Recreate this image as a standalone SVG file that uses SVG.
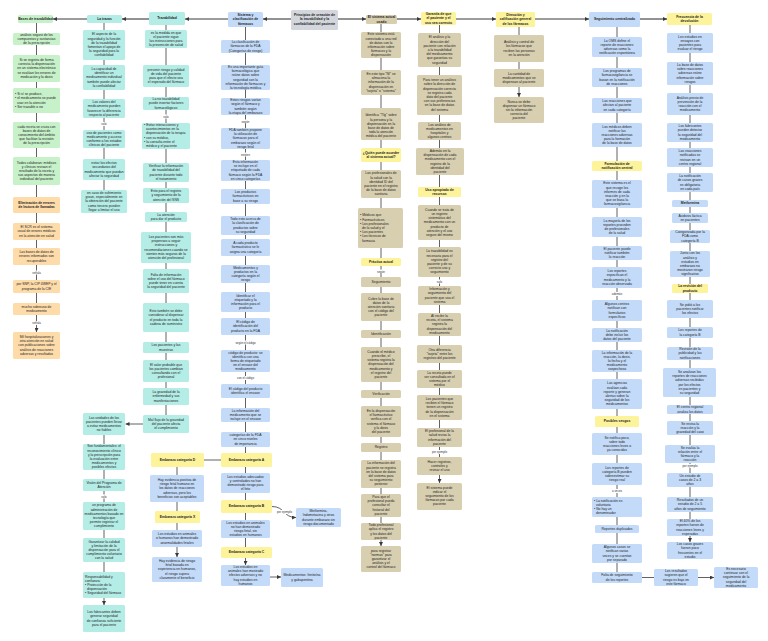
<svg xmlns="http://www.w3.org/2000/svg" width="768" height="641" viewBox="0 0 768 641">
<defs>
<marker id="ah" markerUnits="userSpaceOnUse" markerWidth="4" markerHeight="4" refX="4" refY="2" orient="auto"><path d="M0,0 L4,2 L0,4 z" fill="#3a3a3a"/></marker>
<style>
.g{fill:#c6f1c9}.o{fill:#fddcaa}.c{fill:#b4ece6}.b{fill:#c3dbf9}.t{fill:#d8cfb0}.y{fill:#fdf39b}.k{fill:#d3d6dc}
rect{rx:1.5}
text{font-family:"Liberation Sans",Arial,sans-serif;font-size:3.4px;fill:#222;text-anchor:middle}
text.l{text-anchor:start}
text.h{font-weight:bold}
.cn path{fill:none;stroke:#3a3a3a;stroke-width:0.8;marker-end:url(#ah)}
.cn path.m{stroke-width:1.1}
.lb rect{fill:#fff}
.lb text{font-size:2.9px;fill:#333}
</style>
</defs>
<rect width="768" height="641" fill="#fff"/>
<g id="connectors" class="cn">
<path class="m" d="M291,19 H263"/><path class="m" d="M338,19 H366"/><path class="m" d="M228,19 H185"/><path class="m" d="M149,19 H122"/><path class="m" d="M87,19 H53"/>
<path class="m" d="M397,19 H421"/><path class="m" d="M456,19 H496"/><path class="m" d="M535,19 H589"/><path class="m" d="M640,19 H667"/>
<path d="M36.5,23 V33 M36.5,45 V55 M36.5,82 V88 M36.5,113 V122 M36.5,148 V157 M36.5,185 V197 M36.5,213 V223 M36.5,240 V248 M36.5,265 V280 M36.5,293 V303 M36.5,315 V332"/>
<path d="M104,23 V30 M104,60 V65 M104,90 V99 M104,118 V130 M104,148 V159 M104,180 V190 M104,435 V444 M104,470 V479 M104,491 V502 M104,530 V538 M104,562 V572 M104,598 V605"/>
<path d="M166,25 V30 M166,48 V65 M166,87 V97 M166,110 V123 M166,149 V163 M166,182 V188 M166,203 V212 M166,222 V232 M166,263 V269 M166,293 V303 M166,332 V342 M166,353 V360 M166,382 V388 M166,405 V415 M143,424 H125.5"/>
<path d="M245.5,27 V40 M245.5,53 V65 M245.5,90 V98 M245.5,115 V128 M245.5,149 V160 M245.5,181 V189 M245.5,204 V216 M245.5,235 V239 M245.5,256 V265 M245.5,283 V292 M245.5,312 V318 M245.5,335 V350 M245.5,372 V384 M245.5,398 V408 M245.5,422 V432 M245.5,447 V453 M245.5,467 V473 M245.5,493 V500 M245.5,513 V520 M245.5,538 V547 M245.5,558 V565"/>
<path d="M221,460 H204 M177,467 V475 M177,502 V511 M177,523 V530 M177,547 V557"/>
<path d="M272,506.5 C285,506.5 283,517.5 296,517.5"/><path d="M270,577 H281"/>
<path d="M381,24 V32 M381,58 V70 M381,95 V108 M381,140 V148 M381,162 V170 M381,198 V208 M381,248 V258 M381,266 V277 M381,287 V293 M381,321 V330 M381,338 V347 M381,382 V390 M381,398 V406 M381,437 V443 M381,452 V460 M381,488 V494 M381,517 V523 M381,540 V546"/>
<path d="M439.5,25 V33 M439.5,67 V75 M439.5,115 V122 M439.5,140 V148 M439.5,175 V187 M439.5,197 V205 M439.5,240 V247 M439.5,277 V286 M439.5,305 V313 M439.5,336 V345 M439.5,363 V370 M439.5,388 V395 M439.5,420 V428 M439.5,447 V457 M439.5,475 V483"/>
<path d="M519,27 V35 M519,62 V69 M519,87 V97"/>
<path d="M617,27 V37 M617,57 V68 M617,87 V98 M617,113 V123 M617,147 V161 M617,171 V180 M617,208 V217 M617,237 V246 M617,260 V267 M617,288 V300 M617,321 V328 M617,342 V350 M617,372 V379 M617,409 V416 M617,427 V433 M617,455 V463 M617,485 V497 M617,517 V525 M617,533 V544 M617,563 V572 M642,577.5 H654 M698,577.5 H714"/>
<path d="M690,25 V33 M690,53 V62 M690,85 V93 M690,115 V123 M690,142 V148 M690,167 V173 M690,192 V200 M690,207 V213 M690,223 V230 M690,243 V251 M690,277 V284 M690,293 V300 M690,318 V327 M690,338 V347 M690,360 V368 M690,397 V405 M690,414 V421 M690,435 V445 M690,459 V473 M690,487 V497 M690,512 V519 M690,536 V542"/>
<g class="lb">
<rect x="29" y="270.5" width="15" height="4"/><text x="36.5" y="273.6">señala</text>
<rect x="29" y="321" width="15" height="4"/><text x="36.5" y="324.1">señala</text>
<rect x="98" y="122" width="12" height="4"/><text x="104" y="125.1">solo</text>
<rect x="98" y="494.5" width="12" height="4"/><text x="104" y="497.6">solo</text>
<rect x="160" y="114.5" width="12" height="4"/><text x="166" y="117.6">solo</text>
<rect x="239" y="119.5" width="13" height="4"/><text x="245.5" y="122.6">según</text>
<rect x="238" y="152.5" width="15" height="4"/><text x="245.5" y="155.6">existen</text>
<rect x="233" y="340.5" width="25" height="4"/><text x="245.5" y="343.6">según el código</text>
<rect x="235" y="376" width="21" height="4"/><text x="245.5" y="379.1">con el código</text>
<rect x="276" y="510" width="17" height="4"/><text x="284.5" y="513.1">por ejemplo</text>
<rect x="374.5" y="269.5" width="13" height="4"/><text x="381" y="272.6">según</text>
<rect x="433.5" y="279.5" width="12" height="4"/><text x="439.5" y="282.6">solo</text>
<rect x="431" y="450" width="17" height="4"/><text x="439.5" y="453.1">por ejemplo</text>
<rect x="609" y="292" width="16" height="4"/><text x="617" y="295.1">además</text>
<rect x="609" y="489" width="16" height="4"/><text x="617" y="492.1">a veces</text>
<rect x="681.5" y="464" width="17" height="4"/><text x="690" y="467.1">por ejemplo</text>
</g>
</g>

<g id="center"><rect class="k" x="291" y="10" width="47" height="20" rx="9"/><text class="h" x="314.5" y="16.2"><tspan x="314.5">Principios de creación de</tspan><tspan x="314.5" dy="4.2">la trazabilidad y la</tspan><tspan x="314.5" dy="4.2">confiabilidad del paciente</tspan></text></g>

<g id="c1h"><rect class="g" x="18" y="15" width="35" height="8"/><text class="h" x="35.5" y="20">Bases de trazabilidad</text></g>
<g id="c1n1"><rect class="g" x="13" y="33" width="47" height="12"/><text x="36.5" y="35.7"><tspan x="36.5">análisis seguro de los</tspan><tspan x="36.5" dy="4.2">compuestos y sustancias</tspan><tspan x="36.5" dy="4.2">de la prescripción</tspan></text></g>
<g id="c1n2"><rect class="g" x="13" y="55" width="47" height="27"/><text x="36.5" y="61"><tspan x="36.5">Si se registra de forma</tspan><tspan x="36.5" dy="4.2">correcta la dispensación</tspan><tspan x="36.5" dy="4.2">en un sistema electrónico</tspan><tspan x="36.5" dy="4.2">se evalúan los errores de</tspan><tspan x="36.5" dy="4.2">medicación y la dosis</tspan></text></g>
<g id="c1n3"><rect class="g" x="13" y="88" width="47" height="25"/><text class="l" x="15" y="95.1"><tspan x="15">• Si sí se produce,</tspan><tspan x="15" dy="4.2">• el medicamento se puede</tspan><tspan x="17" dy="4.2">usar en la atención</tspan><tspan x="15" dy="4.2">• Ser trazable o no</tspan></text></g>
<g id="c1n4"><rect class="g" x="13" y="122" width="47" height="26"/><text x="36.5" y="127.5"><tspan x="36.5">cada receta se cruza con</tspan><tspan x="36.5" dy="4.2">bases de datos de</tspan><tspan x="36.5" dy="4.2">conocimiento del ámbito</tspan><tspan x="36.5" dy="4.2">que facilitan la revisión</tspan><tspan x="36.5" dy="4.2">de la prescripción</tspan></text></g>
<g id="c1n5"><rect class="g" x="13" y="157" width="47" height="28"/><text x="36.5" y="163.5"><tspan x="36.5">Todos colaboran: médicos</tspan><tspan x="36.5" dy="4.2">y clínicos revisan el</tspan><tspan x="36.5" dy="4.2">resultado de la receta y</tspan><tspan x="36.5" dy="4.2">sus aspectos de manera</tspan><tspan x="36.5" dy="4.2">individual del paciente</tspan></text></g>
<g id="c1n6"><rect class="o" x="13" y="197" width="47" height="16"/><text class="h" x="36.5" y="203.8"><tspan x="36.5">Eliminación de errores</tspan><tspan x="36.5" dy="4.2">de lectura de llamadas</tspan></text></g>
<g id="c1n7"><rect class="o" x="13" y="223" width="47" height="17"/><text x="36.5" y="228.2"><tspan x="36.5">El SCR es el sistema</tspan><tspan x="36.5" dy="4.2">usual de errores médicos</tspan><tspan x="36.5" dy="4.2">en la atención en salud</tspan></text></g>
<g id="c1n8"><rect class="o" x="13" y="248" width="47" height="17"/><text x="36.5" y="253.2"><tspan x="36.5">Las bases de datos de</tspan><tspan x="36.5" dy="4.2">errores informados son</tspan><tspan x="36.5" dy="4.2">recuperables</tspan></text></g>
<g id="c1n9"><rect class="o" x="13" y="280" width="47" height="13"/><text x="36.5" y="285.3"><tspan x="36.5">por SNP, la CIP 4WEP y el</tspan><tspan x="36.5" dy="4.2">programa de la CIE</tspan></text></g>
<g id="c1n10"><rect class="o" x="13" y="303" width="47" height="12"/><text x="36.5" y="307.8"><tspan x="36.5">mucho sobreuso de</tspan><tspan x="36.5" dy="4.2">medicamento</tspan></text></g>
<g id="c1n11"><rect class="o" x="13" y="332" width="47" height="27"/><text x="36.5" y="338"><tspan x="36.5">Mil hospitalizaciones y</tspan><tspan x="36.5" dy="4.2">otra atención en salud</tspan><tspan x="36.5" dy="4.2">con publicaciones sobre</tspan><tspan x="36.5" dy="4.2">análisis de reacciones</tspan><tspan x="36.5" dy="4.2">adversas y resultados</tspan></text></g>

<g id="c2h"><rect class="c" x="87" y="15" width="35" height="8"/><text class="h" x="104.5" y="20">La trazas</text></g>
<g id="c2n1"><rect class="c" x="83" y="30" width="42" height="30"/><text x="104" y="35.4"><tspan x="104">El aspecto de la</tspan><tspan x="104" dy="4.2">seguridad y la función</tspan><tspan x="104" dy="4.2">de la trazabilidad</tspan><tspan x="104" dy="4.2">fomentan el apoyo de</tspan><tspan x="104" dy="4.2">la seguridad para la</tspan><tspan x="104" dy="4.2">confiabilidad</tspan></text></g>
<g id="c2n2"><rect class="c" x="83" y="65" width="42" height="25"/><text x="104" y="70"><tspan x="104">La capacidad de</tspan><tspan x="104" dy="4.2">identificar un</tspan><tspan x="104" dy="4.2">medicamento individual</tspan><tspan x="104" dy="4.2">también puede afectar</tspan><tspan x="104" dy="4.2">la confiabilidad</tspan></text></g>
<g id="c2n3"><rect class="c" x="83" y="99" width="42" height="19"/><text x="104" y="103.1"><tspan x="104">Los valores del</tspan><tspan x="104" dy="4.2">medicamento pueden</tspan><tspan x="104" dy="4.2">favorecer la diferencia</tspan><tspan x="104" dy="4.2">respecto al paciente</tspan></text></g>
<g id="c2n4"><rect class="c" x="83" y="130" width="42" height="18"/><text x="104" y="133.6"><tspan x="104">uso de pacientes como</tspan><tspan x="104" dy="4.2">medicamento y acceso</tspan><tspan x="104" dy="4.2">conforme a los estados</tspan><tspan x="104" dy="4.2">clínicos del paciente</tspan></text></g>
<g id="c2n5"><rect class="c" x="83" y="159" width="42" height="21"/><text x="104" y="164.1"><tspan x="104">evitar los efectos</tspan><tspan x="104" dy="4.2">secundarios del</tspan><tspan x="104" dy="4.2">medicamento que puedan</tspan><tspan x="104" dy="4.2">afectar la seguridad</tspan></text></g>
<g id="c2n6"><rect class="c" x="81" y="190" width="46" height="23"/><text x="104" y="194"><tspan x="104">en caso de sufrimiento</tspan><tspan x="104" dy="4.2">grave, especialmente en</tspan><tspan x="104" dy="4.2">la obtención del paciente</tspan><tspan x="104" dy="4.2">como tercero pueden</tspan><tspan x="104" dy="4.2">llegar a limitar el uso</tspan></text></g>
<g id="c2n7"><rect class="c" x="83" y="413" width="42" height="22"/><text x="104" y="418.6"><tspan x="104">Las unidades de los</tspan><tspan x="104" dy="4.2">pacientes pueden llevar</tspan><tspan x="104" dy="4.2">a evitar medicamentos</tspan><tspan x="104" dy="4.2">no fiables</tspan></text></g>
<g id="c2n8"><rect class="c" x="83" y="444" width="42" height="26"/><text x="104" y="447.4"><tspan x="104">Son fundamentales: el</tspan><tspan x="104" dy="4.2">reconocimiento clínico</tspan><tspan x="104" dy="4.2">y la prescripción para</tspan><tspan x="104" dy="4.2">la evaluación entre</tspan><tspan x="104" dy="4.2">medicamentos y</tspan><tspan x="104" dy="4.2">posibles efectos</tspan></text></g>
<g id="c2n9"><rect class="c" x="83" y="479" width="42" height="12"/><text x="104" y="483.8"><tspan x="104">Visión del Programa de</tspan><tspan x="104" dy="4.2">Atención</tspan></text></g>
<g id="c2n10"><rect class="c" x="83" y="502" width="42" height="28"/><text x="104" y="506.4"><tspan x="104">un programa de</tspan><tspan x="104" dy="4.2">administración de</tspan><tspan x="104" dy="4.2">medicamentos basado en</tspan><tspan x="104" dy="4.2">tecnología que</tspan><tspan x="104" dy="4.2">permite registrar el</tspan><tspan x="104" dy="4.2">cumplimiento</tspan></text></g>
<g id="c2n11"><rect class="c" x="83" y="538" width="42" height="24"/><text x="104" y="542.5"><tspan x="104">Garantizar la calidad</tspan><tspan x="104" dy="4.2">y limitación de la</tspan><tspan x="104" dy="4.2">dispensación para el</tspan><tspan x="104" dy="4.2">cumplimiento voluntario</tspan><tspan x="104" dy="4.2">con la salud</tspan></text></g>
<g id="c2n12"><rect class="c" x="83" y="572" width="42" height="26"/><text class="l" x="85" y="577.5"><tspan x="85">Responsabilidad y</tspan><tspan x="85" dy="4.2">confianza:</tspan><tspan x="85" dy="4.2">• Protección de la</tspan><tspan x="87" dy="4.2">dispensación</tspan><tspan x="85" dy="4.2">• Seguridad del fármaco</tspan></text></g>
<g id="c2n13"><rect class="c" x="83" y="605" width="42" height="27"/><text x="104" y="613.1"><tspan x="104">Los fabricantes deben</tspan><tspan x="104" dy="4.2">generar seguridad</tspan><tspan x="104" dy="4.2">de confianza suficiente</tspan><tspan x="104" dy="4.2">para el paciente</tspan></text></g>

<g id="c3h"><rect class="c" x="149" y="12" width="36" height="13"/><text class="h" x="167" y="19.4">Trazabilidad</text></g>
<g id="c3n1"><rect class="c" x="145" y="30" width="42" height="18"/><text x="166" y="33.6"><tspan x="166">es la medida en que</tspan><tspan x="166" dy="4.2">el paciente sigue</tspan><tspan x="166" dy="4.2">las instrucciones para</tspan><tspan x="166" dy="4.2">la prevención de salud</tspan></text></g>
<g id="c3n2"><rect class="c" x="143" y="65" width="46" height="22"/><text x="166" y="70.6"><tspan x="166">prevenir riesgo y calidad</tspan><tspan x="166" dy="4.2">de vida del paciente</tspan><tspan x="166" dy="4.2">para que el efecto sea</tspan><tspan x="166" dy="4.2">el esperado del fármaco</tspan></text></g>
<g id="c3n3"><rect class="c" x="143" y="97" width="46" height="13"/><text x="166" y="100.2"><tspan x="166">La no trazabilidad</tspan><tspan x="166" dy="4.2">puede insertar factores</tspan><tspan x="166" dy="4.2">farmacológicos</tspan></text></g>
<g id="c3n4"><rect class="c" x="142" y="123" width="48" height="26"/><text class="l" x="144" y="126"><tspan x="144">• Evitar interacciones y</tspan><tspan x="146" dy="4.2">acontecimientos en la</tspan><tspan x="146" dy="4.2">dispensación de la terapia</tspan><tspan x="144" dy="4.2">• con su médico,</tspan><tspan x="144" dy="4.2">• la consulta entre el</tspan><tspan x="146" dy="4.2">médico y el paciente</tspan></text></g>
<g id="c3n5"><rect class="c" x="143" y="163" width="46" height="19"/><text x="166" y="167.1"><tspan x="166">Verificar la información</tspan><tspan x="166" dy="4.2">de trazabilidad del</tspan><tspan x="166" dy="4.2">paciente durante todo</tspan><tspan x="166" dy="4.2">el tratamiento</tspan></text></g>
<g id="c3n6"><rect class="c" x="143" y="188" width="46" height="15"/><text x="166" y="192.2"><tspan x="166">Esto para el registro</tspan><tspan x="166" dy="4.2">y seguimiento de la</tspan><tspan x="166" dy="4.2">atención del SNS</tspan></text></g>
<g id="c3n7"><rect class="c" x="145" y="212" width="42" height="10"/><text x="166" y="215.8"><tspan x="166">La atención</tspan><tspan x="166" dy="4.2">para dar el producto</tspan></text></g>
<g id="c3n8"><rect class="c" x="141" y="232" width="50" height="31"/><text x="166" y="237.9"><tspan x="166">Los pacientes son más</tspan><tspan x="166" dy="4.2">propensos a seguir</tspan><tspan x="166" dy="4.2">instrucciones y</tspan><tspan x="166" dy="4.2">recomendaciones cuando se</tspan><tspan x="166" dy="4.2">sienten más seguros de la</tspan><tspan x="166" dy="4.2">atención del profesional</tspan></text></g>
<g id="c3n9"><rect class="c" x="143" y="269" width="46" height="24"/><text x="166" y="275.6"><tspan x="166">Falta de información</tspan><tspan x="166" dy="4.2">sobre el uso del fármaco</tspan><tspan x="166" dy="4.2">puede tener en cuenta</tspan><tspan x="166" dy="4.2">la seguridad del paciente</tspan></text></g>
<g id="c3n10"><rect class="c" x="143" y="303" width="46" height="29"/><text x="166" y="312.1"><tspan x="166">Esto también se debe</tspan><tspan x="166" dy="4.2">considerar al dispensar</tspan><tspan x="166" dy="4.2">el producto en toda la</tspan><tspan x="166" dy="4.2">cadena de suministro</tspan></text></g>
<g id="c3n11"><rect class="c" x="143" y="342" width="46" height="11"/><text x="166" y="346.3"><tspan x="166">Los pacientes y las</tspan><tspan x="166" dy="4.2">muestras</tspan></text></g>
<g id="c3n12"><rect class="c" x="143" y="360" width="46" height="22"/><text x="166" y="365.6"><tspan x="166">El valor probable que</tspan><tspan x="166" dy="4.2">los pacientes cambian</tspan><tspan x="166" dy="4.2">consultando con el</tspan><tspan x="166" dy="4.2">profesional</tspan></text></g>
<g id="c3n13"><rect class="c" x="143" y="388" width="46" height="17"/><text x="166" y="393.2"><tspan x="166">La gravedad de la</tspan><tspan x="166" dy="4.2">enfermedad y sus</tspan><tspan x="166" dy="4.2">manifestaciones</tspan></text></g>
<g id="c3n14"><rect class="c" x="143" y="415" width="46" height="18"/><text x="166" y="420.7"><tspan x="166">Mal flujo de la gravedad</tspan><tspan x="166" dy="4.2">del paciente afecta</tspan><tspan x="166" dy="4.2">el cumplimiento</tspan></text></g>

<g id="c4h"><rect class="b" x="228" y="12" width="35" height="15"/><text class="h" x="245.5" y="16.2"><tspan x="245.5">Sistema y</tspan><tspan x="245.5" dy="4.2">clasificación de</tspan><tspan x="245.5" dy="4.2">fármacos</tspan></text></g>
<g id="c4n1"><rect class="b" x="221" y="40" width="49" height="13"/><text x="245.5" y="43.2"><tspan x="245.5">La clasificación de</tspan><tspan x="245.5" dy="4.2">fármacos de la FDA</tspan><tspan x="245.5" dy="4.2">(Categorías de riesgo)</tspan></text></g>
<g id="c4n2"><rect class="b" x="221" y="65" width="49" height="25"/><text x="245.5" y="67.9"><tspan x="245.5">Es una importante guía</tspan><tspan x="245.5" dy="4.2">farmacológica que</tspan><tspan x="245.5" dy="4.2">reúne datos sobre</tspan><tspan x="245.5" dy="4.2">seguridad con la</tspan><tspan x="245.5" dy="4.2">información de fármacos y</tspan><tspan x="245.5" dy="4.2">la tecnología médica</tspan></text></g>
<g id="c4n3"><rect class="b" x="221" y="98" width="49" height="17"/><text x="245.5" y="101.1"><tspan x="245.5">Estos riesgos varían</tspan><tspan x="245.5" dy="4.2">según el fármaco y</tspan><tspan x="245.5" dy="4.2">también según</tspan><tspan x="245.5" dy="4.2">la etapa del embarazo</tspan></text></g>
<g id="c4n4"><rect class="b" x="221" y="128" width="49" height="21"/><text x="245.5" y="131"><tspan x="245.5">FDA también propone</tspan><tspan x="245.5" dy="4.2">la utilización de</tspan><tspan x="245.5" dy="4.2">fármacos para el</tspan><tspan x="245.5" dy="4.2">embarazo según el</tspan><tspan x="245.5" dy="4.2">riesgo fetal</tspan></text></g>
<g id="c4n5"><rect class="b" x="221" y="160" width="49" height="21"/><text x="245.5" y="163"><tspan x="245.5">Esta información</tspan><tspan x="245.5" dy="4.2">se incluye en el</tspan><tspan x="245.5" dy="4.2">etiquetado de cada</tspan><tspan x="245.5" dy="4.2">fármaco según la FDA</tspan><tspan x="245.5" dy="4.2">en cinco categorías</tspan></text></g>
<g id="c4n6"><rect class="b" x="221" y="189" width="49" height="15"/><text x="245.5" y="193.2"><tspan x="245.5">Los productos</tspan><tspan x="245.5" dy="4.2">farmacéuticos en</tspan><tspan x="245.5" dy="4.2">base a su riesgo</tspan></text></g>
<g id="c4n7"><rect class="b" x="221" y="216" width="49" height="19"/><text x="245.5" y="220.1"><tspan x="245.5">Todo esto acerca de</tspan><tspan x="245.5" dy="4.2">la clasificación de</tspan><tspan x="245.5" dy="4.2">productos sobre</tspan><tspan x="245.5" dy="4.2">su seguridad</tspan></text></g>
<g id="c4n8"><rect class="b" x="221" y="239" width="49" height="17"/><text x="245.5" y="244.2"><tspan x="245.5">A cada producto</tspan><tspan x="245.5" dy="4.2">farmacéutico se le</tspan><tspan x="245.5" dy="4.2">asigna una categoría</tspan></text></g>
<g id="c4n9"><rect class="b" x="221" y="265" width="49" height="18"/><text x="245.5" y="268.6"><tspan x="245.5">Medicamentos y</tspan><tspan x="245.5" dy="4.2">productos en la</tspan><tspan x="245.5" dy="4.2">categoría según el</tspan><tspan x="245.5" dy="4.2">riesgo</tspan></text></g>
<g id="c4n10"><rect class="b" x="221" y="292" width="49" height="20"/><text x="245.5" y="296.6"><tspan x="245.5">Identificar el</tspan><tspan x="245.5" dy="4.2">etiquetado y la</tspan><tspan x="245.5" dy="4.2">información para el</tspan><tspan x="245.5" dy="4.2">producto</tspan></text></g>
<g id="c4n11"><rect class="b" x="221" y="318" width="49" height="17"/><text x="245.5" y="323.2"><tspan x="245.5">El código de</tspan><tspan x="245.5" dy="4.2">identificación del</tspan><tspan x="245.5" dy="4.2">producto en la FDA</tspan></text></g>
<g id="c4n12"><rect class="b" x="221" y="350" width="49" height="22"/><text x="245.5" y="353.5"><tspan x="245.5">código de producto: se</tspan><tspan x="245.5" dy="4.2">identifica con una</tspan><tspan x="245.5" dy="4.2">forma de etiquetado</tspan><tspan x="245.5" dy="4.2">en el envase del</tspan><tspan x="245.5" dy="4.2">medicamento</tspan></text></g>
<g id="c4n13"><rect class="b" x="221" y="384" width="49" height="14"/><text x="245.5" y="389.8"><tspan x="245.5">El código del producto</tspan><tspan x="245.5" dy="4.2">identifica el envase</tspan></text></g>
<g id="c4n14"><rect class="b" x="221" y="408" width="49" height="14"/><text x="245.5" y="411.7"><tspan x="245.5">La información del</tspan><tspan x="245.5" dy="4.2">medicamento que se</tspan><tspan x="245.5" dy="4.2">incluye en el envase</tspan></text></g>
<g id="c4n15"><rect class="b" x="221" y="432" width="49" height="15"/><text x="245.5" y="436.2"><tspan x="245.5">categorías de la FDA</tspan><tspan x="245.5" dy="4.2">en cinco niveles</tspan><tspan x="245.5" dy="4.2">de importancia</tspan></text></g>
<g id="c4n16"><rect class="y" x="221" y="453" width="51" height="14"/><text class="h" x="246.5" y="460.9">Embarazo categoría A</text></g>
<g id="c4n17"><rect class="b" x="221" y="473" width="49" height="20"/><text x="245.5" y="477.6"><tspan x="245.5">Los estudios adecuados</tspan><tspan x="245.5" dy="4.2">y controlados no han</tspan><tspan x="245.5" dy="4.2">demostrado riesgo para</tspan><tspan x="245.5" dy="4.2">el feto</tspan></text></g>
<g id="c4n18"><rect class="y" x="221" y="500" width="51" height="13"/><text class="h" x="246.5" y="507.4">Embarazo categoría B</text></g>
<g id="c4n19"><rect class="b" x="221" y="520" width="49" height="18"/><text x="245.5" y="523.6"><tspan x="245.5">Los estudios en animales</tspan><tspan x="245.5" dy="4.2">no han demostrado</tspan><tspan x="245.5" dy="4.2">riesgo fetal, sin</tspan><tspan x="245.5" dy="4.2">estudios en humanos</tspan></text></g>
<g id="c4n20"><rect class="y" x="221" y="547" width="51" height="11"/><text class="h" x="246.5" y="553.4">Embarazo categoría C</text></g>
<g id="c4n21"><rect class="b" x="221" y="565" width="49" height="21"/><text x="245.5" y="568"><tspan x="245.5">Los estudios en</tspan><tspan x="245.5" dy="4.2">animales han mostrado</tspan><tspan x="245.5" dy="4.2">efectos adversos y no</tspan><tspan x="245.5" dy="4.2">hay estudios en</tspan><tspan x="245.5" dy="4.2">humanos</tspan></text></g>
<g id="cdY"><rect class="y" x="151" y="453" width="53" height="14"/><text class="h" x="177.5" y="460.9">Embarazo categoría D</text></g>
<g id="cdN1"><rect class="b" x="150" y="475" width="54" height="27"/><text x="177" y="481"><tspan x="177">Hay evidencia positiva de</tspan><tspan x="177" dy="4.2">riesgo fetal humano en</tspan><tspan x="177" dy="4.2">los datos de reacciones</tspan><tspan x="177" dy="4.2">adversas, pero los</tspan><tspan x="177" dy="4.2">beneficios son aceptables</tspan></text></g>
<g id="cxY"><rect class="y" x="155" y="511" width="45" height="12"/><text class="h" x="177.5" y="517.9">Embarazo categoría X</text></g>
<g id="cxN1"><rect class="b" x="152" y="530" width="50" height="17"/><text x="177" y="535.2"><tspan x="177">Los estudios en animales</tspan><tspan x="177" dy="4.2">o humanos han demostrado</tspan><tspan x="177" dy="4.2">anormalidades fetales</tspan></text></g>
<g id="cxN2"><rect class="b" x="152" y="557" width="50" height="25"/><text x="177" y="562"><tspan x="177">Hay evidencia de riesgo</tspan><tspan x="177" dy="4.2">fetal basada en</tspan><tspan x="177" dy="4.2">experiencia en humanos,</tspan><tspan x="177" dy="4.2">el riesgo supera</tspan><tspan x="177" dy="4.2">claramente el beneficio</tspan></text></g>
<g id="cbR1"><rect class="b" x="296" y="508" width="45" height="19"/><text x="318.5" y="512.1"><tspan x="318.5">Metformina,</tspan><tspan x="318.5" dy="4.2">Indometacina y otros</tspan><tspan x="318.5" dy="4.2">durante embarazo sin</tspan><tspan x="318.5" dy="4.2">riesgo documentado</tspan></text></g>
<g id="ccR1"><rect class="b" x="281" y="568" width="42" height="19"/><text x="302" y="576.3"><tspan x="302">Medicamentos: fenitoína</tspan><tspan x="302" dy="4.2">y gabapentina</tspan></text></g>

<g id="c5h"><rect class="t" x="366" y="15" width="31" height="9"/><text class="h" x="381.5" y="18.3"><tspan x="381.5">El sistema actual</tspan><tspan x="381.5" dy="4.2">usado</tspan></text></g>
<g id="c5n1"><rect class="t" x="361" y="32" width="40" height="26"/><text x="381" y="35.4"><tspan x="381">Este sistema está</tspan><tspan x="381" dy="4.2">conectado a una red</tspan><tspan x="381" dy="4.2">de datos con la</tspan><tspan x="381" dy="4.2">información sobre</tspan><tspan x="381" dy="4.2">fármacos y la</tspan><tspan x="381" dy="4.2">dispensación</tspan></text></g>
<g id="c5n2"><rect class="t" x="361" y="70" width="40" height="25"/><text x="381" y="75"><tspan x="381">En este tipo "NI" se</tspan><tspan x="381" dy="4.2">almacena la</tspan><tspan x="381" dy="4.2">información de la</tspan><tspan x="381" dy="4.2">dispensación en</tspan><tspan x="381" dy="4.2">"tarjeta" o "sistema"</tspan></text></g>
<g id="c5n3"><rect class="t" x="361" y="108" width="40" height="32"/><text x="381" y="116.4"><tspan x="381">Identifica "TIg" sobre</tspan><tspan x="381" dy="4.2">la persona y la</tspan><tspan x="381" dy="4.2">dispensación en la</tspan><tspan x="381" dy="4.2">base de datos de</tspan><tspan x="381" dy="4.2">toda la atención</tspan><tspan x="381" dy="4.2">médica del paciente</tspan></text></g>
<g id="c5n4"><rect class="y" x="361" y="148" width="40" height="14"/><text class="h" x="381" y="153.8"><tspan x="381">¿Quién puede acceder</tspan><tspan x="381" dy="4.2">al sistema actual?</tspan></text></g>
<g id="c5n5"><rect class="t" x="361" y="170" width="40" height="28"/><text x="381" y="174.4"><tspan x="381">Los profesionales de</tspan><tspan x="381" dy="4.2">la salud con la</tspan><tspan x="381" dy="4.2">identidad ID del</tspan><tspan x="381" dy="4.2">paciente en el registro</tspan><tspan x="381" dy="4.2">de la base de datos</tspan><tspan x="381" dy="4.2">sanitaria</tspan></text></g>
<g id="c5n6"><rect class="t" x="358" y="208" width="45" height="40"/><text class="l" x="360" y="216.3"><tspan x="360">• Médicos que</tspan><tspan x="360" dy="4.2">• Farmacéuticos</tspan><tspan x="360" dy="4.2">• Los profesionales</tspan><tspan x="362" dy="4.2">de la salud y el</tspan><tspan x="360" dy="4.2">• Los pacientes</tspan><tspan x="360" dy="4.2">• Los técnicos de</tspan><tspan x="362" dy="4.2">farmacia</tspan></text></g>
<g id="c5n7"><rect class="y" x="361" y="258" width="40" height="8"/><text class="h" x="381" y="262.9">Práctica actual</text></g>
<g id="c5n8"><rect class="t" x="361" y="277" width="40" height="10"/><text x="381" y="282.9">Seguimiento</text></g>
<g id="c5n9"><rect class="t" x="361" y="293" width="40" height="28"/><text x="381" y="299.5"><tspan x="381">Cubre la base de</tspan><tspan x="381" dy="4.2">datos de la</tspan><tspan x="381" dy="4.2">atención sanitaria</tspan><tspan x="381" dy="4.2">con el código del</tspan><tspan x="381" dy="4.2">paciente</tspan></text></g>
<g id="c5n10"><rect class="t" x="361" y="330" width="40" height="8"/><text x="381" y="334.9">Identificación</text></g>
<g id="c5n11"><rect class="t" x="361" y="347" width="40" height="35"/><text x="381" y="352.8"><tspan x="381">Cuando el médico</tspan><tspan x="381" dy="4.2">prescribe, el</tspan><tspan x="381" dy="4.2">sistema registra la</tspan><tspan x="381" dy="4.2">dispensación del</tspan><tspan x="381" dy="4.2">medicamento y</tspan><tspan x="381" dy="4.2">el registro del</tspan><tspan x="381" dy="4.2">paciente</tspan></text></g>
<g id="c5n12"><rect class="t" x="361" y="390" width="40" height="8"/><text x="381" y="394.9">Verificación</text></g>
<g id="c5n13"><rect class="t" x="361" y="406" width="40" height="31"/><text x="381" y="411.9"><tspan x="381">En la dispensación</tspan><tspan x="381" dy="4.2">el farmacéutico</tspan><tspan x="381" dy="4.2">verifica con el</tspan><tspan x="381" dy="4.2">sistema el fármaco</tspan><tspan x="381" dy="4.2">y la dosis</tspan><tspan x="381" dy="4.2">del paciente</tspan></text></g>
<g id="c5n14"><rect class="t" x="361" y="443" width="40" height="9"/><text x="381" y="448.4">Registro</text></g>
<g id="c5n15"><rect class="t" x="361" y="460" width="40" height="28"/><text x="381" y="464.4"><tspan x="381">La información del</tspan><tspan x="381" dy="4.2">paciente se registra</tspan><tspan x="381" dy="4.2">en la base de datos</tspan><tspan x="381" dy="4.2">del sistema para</tspan><tspan x="381" dy="4.2">su seguimiento</tspan><tspan x="381" dy="4.2">posterior</tspan></text></g>
<g id="c5n16"><rect class="t" x="361" y="494" width="40" height="23"/><text x="381" y="498"><tspan x="381">Para que el</tspan><tspan x="381" dy="4.2">profesional pueda</tspan><tspan x="381" dy="4.2">consultar el</tspan><tspan x="381" dy="4.2">historial del</tspan><tspan x="381" dy="4.2">paciente</tspan></text></g>
<g id="c5n17"><rect class="t" x="361" y="523" width="40" height="17"/><text x="381" y="526.1"><tspan x="381">Todo profesional</tspan><tspan x="381" dy="4.2">aplica el registro</tspan><tspan x="381" dy="4.2">y los datos del</tspan><tspan x="381" dy="4.2">paciente</tspan></text></g>
<g id="c5n18"><rect class="t" x="361" y="546" width="40" height="26"/><text x="381" y="551.5"><tspan x="381">para registrar</tspan><tspan x="381" dy="4.2">"normas" para</tspan><tspan x="381" dy="4.2">garantizar el</tspan><tspan x="381" dy="4.2">análisis y el</tspan><tspan x="381" dy="4.2">control del fármaco</tspan></text></g>

<g id="c6h"><rect class="y" x="421" y="12" width="35" height="13"/><text class="h" x="438.5" y="15.2"><tspan x="438.5">Garantía de que</tspan><tspan x="438.5" dy="4.2">el paciente y el</tspan><tspan x="438.5" dy="4.2">uso sea correcto</tspan></text></g>
<g id="c6n1"><rect class="t" x="418" y="33" width="43" height="34"/><text x="439.5" y="38.3"><tspan x="439.5">El análisis y la</tspan><tspan x="439.5" dy="4.2">dirección del</tspan><tspan x="439.5" dy="4.2">paciente con relación</tspan><tspan x="439.5" dy="4.2">a la trazabilidad</tspan><tspan x="439.5" dy="4.2">del medicamento</tspan><tspan x="439.5" dy="4.2">que garantiza su</tspan><tspan x="439.5" dy="4.2">seguridad</tspan></text></g>
<g id="c6n2"><rect class="t" x="417" y="75" width="45" height="40"/><text x="439.5" y="81.2"><tspan x="439.5">Para tener un análisis</tspan><tspan x="439.5" dy="4.2">sobre la dirección de</tspan><tspan x="439.5" dy="4.2">dispensación correcta</tspan><tspan x="439.5" dy="4.2">se registra cada</tspan><tspan x="439.5" dy="4.2">dato del paciente</tspan><tspan x="439.5" dy="4.2">con sus preferencias</tspan><tspan x="439.5" dy="4.2">en la base de datos</tspan><tspan x="439.5" dy="4.2">del sistema</tspan></text></g>
<g id="c6n3"><rect class="t" x="418" y="122" width="43" height="18"/><text x="439.5" y="125.6"><tspan x="439.5">Los análisis de</tspan><tspan x="439.5" dy="4.2">medicamentos en</tspan><tspan x="439.5" dy="4.2">hospitales y</tspan><tspan x="439.5" dy="4.2">algunos centros</tspan></text></g>
<g id="c6n4"><rect class="t" x="416" y="148" width="48" height="27"/><text x="440" y="151.9"><tspan x="440">Además en la</tspan><tspan x="440" dy="4.2">dispensación de cada</tspan><tspan x="440" dy="4.2">medicamento con el</tspan><tspan x="440" dy="4.2">registro de la</tspan><tspan x="440" dy="4.2">identidad del</tspan><tspan x="440" dy="4.2">paciente</tspan></text></g>
<g id="c6n5"><rect class="y" x="418" y="187" width="43" height="10"/><text class="h" x="439.5" y="190.8"><tspan x="439.5">Uso apropiado de</tspan><tspan x="439.5" dy="4.2">recursos</tspan></text></g>
<g id="c6n6"><rect class="t" x="418" y="205" width="43" height="35"/><text x="439.5" y="210.8"><tspan x="439.5">Cuando se trata de</tspan><tspan x="439.5" dy="4.2">un registro</tspan><tspan x="439.5" dy="4.2">sistemático del</tspan><tspan x="439.5" dy="4.2">medicamento con un</tspan><tspan x="439.5" dy="4.2">producto de</tspan><tspan x="439.5" dy="4.2">atención y el uso</tspan><tspan x="439.5" dy="4.2">seguro del mismo</tspan></text></g>
<g id="c6n7"><rect class="t" x="418" y="247" width="43" height="30"/><text x="439.5" y="252.4"><tspan x="439.5">La trazabilidad es</tspan><tspan x="439.5" dy="4.2">necesaria para el</tspan><tspan x="439.5" dy="4.2">registro del</tspan><tspan x="439.5" dy="4.2">paciente y de su</tspan><tspan x="439.5" dy="4.2">correcto uso y</tspan><tspan x="439.5" dy="4.2">seguimiento</tspan></text></g>
<g id="c6n8"><rect class="t" x="418" y="286" width="43" height="19"/><text x="439.5" y="290.1"><tspan x="439.5">Información y</tspan><tspan x="439.5" dy="4.2">seguimiento del</tspan><tspan x="439.5" dy="4.2">paciente que usa el</tspan><tspan x="439.5" dy="4.2">sistema</tspan></text></g>
<g id="c6n9"><rect class="t" x="418" y="313" width="43" height="23"/><text x="439.5" y="317"><tspan x="439.5">Al recibir la</tspan><tspan x="439.5" dy="4.2">receta, el sistema</tspan><tspan x="439.5" dy="4.2">registra la</tspan><tspan x="439.5" dy="4.2">dispensación del</tspan><tspan x="439.5" dy="4.2">medicamento</tspan></text></g>
<g id="c6n10"><rect class="t" x="417" y="345" width="45" height="18"/><text x="439.5" y="350.7"><tspan x="439.5">Otra diferencia</tspan><tspan x="439.5" dy="4.2">"tarjeta" entre los</tspan><tspan x="439.5" dy="4.2">registros del paciente</tspan></text></g>
<g id="c6n11"><rect class="t" x="417" y="370" width="45" height="18"/><text x="439.5" y="373.6"><tspan x="439.5">La receta puede</tspan><tspan x="439.5" dy="4.2">ser consultada en el</tspan><tspan x="439.5" dy="4.2">sistema por el</tspan><tspan x="439.5" dy="4.2">médico</tspan></text></g>
<g id="c6n12"><rect class="t" x="417" y="395" width="45" height="25"/><text x="439.5" y="400"><tspan x="439.5">Los pacientes que</tspan><tspan x="439.5" dy="4.2">reciben el fármaco</tspan><tspan x="439.5" dy="4.2">tienen un registro</tspan><tspan x="439.5" dy="4.2">de la dispensación</tspan><tspan x="439.5" dy="4.2">en el sistema</tspan></text></g>
<g id="c6n13"><rect class="t" x="417" y="428" width="45" height="19"/><text x="439.5" y="432.1"><tspan x="439.5">El profesional de la</tspan><tspan x="439.5" dy="4.2">salud revisa la</tspan><tspan x="439.5" dy="4.2">información del</tspan><tspan x="439.5" dy="4.2">paciente</tspan></text></g>
<g id="c6n14"><rect class="t" x="417" y="457" width="45" height="18"/><text x="439.5" y="462.7"><tspan x="439.5">Hacer registros,</tspan><tspan x="439.5" dy="4.2">controles y</tspan><tspan x="439.5" dy="4.2">revisar el uso</tspan></text></g>
<g id="c6n15"><rect class="t" x="417" y="483" width="45" height="27"/><text x="439.5" y="488.5"><tspan x="439.5">El sistema puede</tspan><tspan x="439.5" dy="4.2">indicar el</tspan><tspan x="439.5" dy="4.2">seguimiento de los</tspan><tspan x="439.5" dy="4.2">fármacos por cada</tspan><tspan x="439.5" dy="4.2">paciente</tspan></text></g>

<g id="c7h"><rect class="y" x="496" y="12" width="39" height="15"/><text class="h" x="515.5" y="16.2"><tspan x="515.5">Dirección y</tspan><tspan x="515.5" dy="4.2">calificación general</tspan><tspan x="515.5" dy="4.2">de los fármacos</tspan></text></g>
<g id="c7n1"><rect class="t" x="494" y="35" width="50" height="27"/><text x="519" y="43.1"><tspan x="519">Análisis y control de</tspan><tspan x="519" dy="4.2">los fármacos que</tspan><tspan x="519" dy="4.2">reciben las personas</tspan><tspan x="519" dy="4.2">en la atención</tspan></text></g>
<g id="c7n2"><rect class="t" x="494" y="69" width="50" height="18"/><text x="519" y="74.7"><tspan x="519">La cantidad de</tspan><tspan x="519" dy="4.2">medicamentos que se</tspan><tspan x="519" dy="4.2">dispensan al paciente</tspan></text></g>
<g id="c7n3"><rect class="t" x="494" y="97" width="50" height="26"/><text x="519" y="102.5"><tspan x="519">Nunca se debe</tspan><tspan x="519" dy="4.2">dispensar un fármaco</tspan><tspan x="519" dy="4.2">sin la información</tspan><tspan x="519" dy="4.2">correcta del</tspan><tspan x="519" dy="4.2">paciente</tspan></text></g>

<g id="c8h"><rect class="b" x="589" y="12" width="51" height="15"/><text class="h" x="614.5" y="20.4">Seguimiento centralizado</text></g>
<g id="c8n1"><rect class="b" x="592" y="37" width="50" height="20"/><text x="617" y="41.6"><tspan x="617">La OMS define el</tspan><tspan x="617" dy="4.2">reporte de reacciones</tspan><tspan x="617" dy="4.2">adversas como la</tspan><tspan x="617" dy="4.2">notificación espontánea</tspan></text></g>
<g id="c8n2"><rect class="b" x="592" y="68" width="50" height="19"/><text x="617" y="72.1"><tspan x="617">Los programas de</tspan><tspan x="617" dy="4.2">farmacovigilancia se</tspan><tspan x="617" dy="4.2">basan en la notificación</tspan><tspan x="617" dy="4.2">de reacciones</tspan></text></g>
<g id="c8n3"><rect class="b" x="592" y="98" width="50" height="15"/><text x="617" y="102.2"><tspan x="617">Las reacciones que</tspan><tspan x="617" dy="4.2">afectan al paciente</tspan><tspan x="617" dy="4.2">en cada categoría</tspan></text></g>
<g id="c8n4"><rect class="b" x="592" y="123" width="50" height="24"/><text x="617" y="127.5"><tspan x="617">Los médicos deben</tspan><tspan x="617" dy="4.2">notificar las</tspan><tspan x="617" dy="4.2">reacciones adversas</tspan><tspan x="617" dy="4.2">para la formación</tspan><tspan x="617" dy="4.2">de la base de datos</tspan></text></g>
<g id="c8n5"><rect class="y" x="592" y="161" width="50" height="10"/><text class="h" x="617" y="164.8"><tspan x="617">Formulación de</tspan><tspan x="617" dy="4.2">notificación central</tspan></text></g>
<g id="c8n6"><rect class="b" x="592" y="180" width="50" height="28"/><text x="617" y="184.4"><tspan x="617">Este sistema es el</tspan><tspan x="617" dy="4.2">que recoge los</tspan><tspan x="617" dy="4.2">informes de cada</tspan><tspan x="617" dy="4.2">reacción y en la</tspan><tspan x="617" dy="4.2">que se basa la</tspan><tspan x="617" dy="4.2">farmacovigilancia</tspan></text></g>
<g id="c8n7"><rect class="b" x="592" y="217" width="50" height="20"/><text x="617" y="221.6"><tspan x="617">La mayoría de los</tspan><tspan x="617" dy="4.2">reportes proceden</tspan><tspan x="617" dy="4.2">de profesionales</tspan><tspan x="617" dy="4.2">de la salud</tspan></text></g>
<g id="c8n8"><rect class="b" x="592" y="246" width="50" height="14"/><text x="617" y="249.7"><tspan x="617">El paciente puede</tspan><tspan x="617" dy="4.2">notificar también</tspan><tspan x="617" dy="4.2">la reacción</tspan></text></g>
<g id="c8n9"><rect class="b" x="592" y="267" width="50" height="21"/><text x="617" y="272.1"><tspan x="617">Los reportes</tspan><tspan x="617" dy="4.2">especifican el</tspan><tspan x="617" dy="4.2">medicamento y la</tspan><tspan x="617" dy="4.2">reacción observada</tspan></text></g>
<g id="c8n10"><rect class="b" x="592" y="300" width="50" height="21"/><text x="617" y="305.1"><tspan x="617">Algunos centros</tspan><tspan x="617" dy="4.2">notifican con</tspan><tspan x="617" dy="4.2">formularios</tspan><tspan x="617" dy="4.2">específicos</tspan></text></g>
<g id="c8n11"><rect class="b" x="592" y="328" width="50" height="14"/><text x="617" y="331.7"><tspan x="617">La notificación</tspan><tspan x="617" dy="4.2">debe incluir los</tspan><tspan x="617" dy="4.2">datos del paciente</tspan></text></g>
<g id="c8n12"><rect class="b" x="592" y="350" width="50" height="22"/><text x="617" y="353.5"><tspan x="617">La información de la</tspan><tspan x="617" dy="4.2">reacción, la dosis,</tspan><tspan x="617" dy="4.2">la fecha y el</tspan><tspan x="617" dy="4.2">medicamento</tspan><tspan x="617" dy="4.2">sospechoso</tspan></text></g>
<g id="c8n13"><rect class="b" x="592" y="379" width="50" height="30"/><text x="617" y="384.4"><tspan x="617">Las agencias</tspan><tspan x="617" dy="4.2">evalúan cada</tspan><tspan x="617" dy="4.2">reporte y generan</tspan><tspan x="617" dy="4.2">alertas sobre la</tspan><tspan x="617" dy="4.2">seguridad de los</tspan><tspan x="617" dy="4.2">medicamentos</tspan></text></g>
<g id="c8n14"><rect class="y" x="595" y="416" width="44" height="11"/><text class="h" x="617" y="422.4">Posibles sesgos</text></g>
<g id="c8n15"><rect class="b" x="592" y="433" width="50" height="22"/><text x="617" y="438.6"><tspan x="617">Se notifica poco,</tspan><tspan x="617" dy="4.2">sobre todo</tspan><tspan x="617" dy="4.2">reacciones leves o</tspan><tspan x="617" dy="4.2">ya conocidas</tspan></text></g>
<g id="c8n16"><rect class="b" x="592" y="463" width="50" height="22"/><text x="617" y="468.6"><tspan x="617">Los reportes de</tspan><tspan x="617" dy="4.2">categoría B pueden</tspan><tspan x="617" dy="4.2">sobreestimar su</tspan><tspan x="617" dy="4.2">riesgo real</tspan></text></g>
<g id="c8n17"><rect class="b" x="592" y="497" width="50" height="20"/><text class="l" x="594" y="501.6"><tspan x="594">• La notificación es</tspan><tspan x="596" dy="4.2">voluntaria</tspan><tspan x="594" dy="4.2">• No hay un</tspan><tspan x="596" dy="4.2">denominador</tspan></text></g>
<g id="c8n18"><rect class="b" x="595" y="525" width="44" height="8"/><text x="617" y="529.9">Reportes duplicados</text></g>
<g id="c8n19"><rect class="b" x="592" y="544" width="50" height="19"/><text x="617" y="548.1"><tspan x="617">Algunos casos se</tspan><tspan x="617" dy="4.2">notifican varias</tspan><tspan x="617" dy="4.2">veces y se cuentan</tspan><tspan x="617" dy="4.2">por separado</tspan></text></g>
<g id="c8n20"><rect class="b" x="592" y="572" width="50" height="11"/><text x="617" y="576.3"><tspan x="617">Falta de seguimiento</tspan><tspan x="617" dy="4.2">de los reportes</tspan></text></g>

<g id="c9h"><rect class="y" x="667" y="13" width="45" height="12"/><text class="h" x="689.5" y="17.8"><tspan x="689.5">Frecuencia de la</tspan><tspan x="689.5" dy="4.2">devolución</tspan></text></g>
<g id="c9n1"><rect class="b" x="667" y="33" width="46" height="20"/><text x="690" y="37.6"><tspan x="690">Los estudios en</tspan><tspan x="690" dy="4.2">ensayos con</tspan><tspan x="690" dy="4.2">pacientes para</tspan><tspan x="690" dy="4.2">evaluar el riesgo</tspan></text></g>
<g id="c9n2"><rect class="b" x="667" y="62" width="46" height="23"/><text x="690" y="66"><tspan x="690">La base de datos</tspan><tspan x="690" dy="4.2">sobre reacciones</tspan><tspan x="690" dy="4.2">adversas reúne</tspan><tspan x="690" dy="4.2">información sobre</tspan><tspan x="690" dy="4.2">riesgos</tspan></text></g>
<g id="c9n3"><rect class="b" x="667" y="93" width="46" height="22"/><text x="690" y="98.6"><tspan x="690">Análisis previo de</tspan><tspan x="690" dy="4.2">prevención de la</tspan><tspan x="690" dy="4.2">reacción con el</tspan><tspan x="690" dy="4.2">medicamento</tspan></text></g>
<g id="c9n4"><rect class="b" x="667" y="123" width="46" height="19"/><text x="690" y="127.1"><tspan x="690">Los fabricantes</tspan><tspan x="690" dy="4.2">pueden detectar</tspan><tspan x="690" dy="4.2">la seguridad del</tspan><tspan x="690" dy="4.2">medicamento</tspan></text></g>
<g id="c9n5"><rect class="b" x="667" y="148" width="46" height="19"/><text x="690" y="152.1"><tspan x="690">Las reacciones</tspan><tspan x="690" dy="4.2">notificadas se</tspan><tspan x="690" dy="4.2">revisan en un</tspan><tspan x="690" dy="4.2">centro regional</tspan></text></g>
<g id="c9n6"><rect class="b" x="667" y="173" width="46" height="19"/><text x="690" y="177.1"><tspan x="690">La notificación</tspan><tspan x="690" dy="4.2">de casos graves</tspan><tspan x="690" dy="4.2">es obligatoria</tspan><tspan x="690" dy="4.2">en cada país</tspan></text></g>
<g id="c9n7"><rect class="b" x="672" y="200" width="36" height="7"/><text class="h" x="690" y="204.4">Metformina</text></g>
<g id="c9n8"><rect class="b" x="672" y="213" width="36" height="10"/><text x="690" y="216.8"><tspan x="690">Acidosis láctica</tspan><tspan x="690" dy="4.2">en pacientes</tspan></text></g>
<g id="c9n9"><rect class="b" x="670" y="230" width="40" height="13"/><text x="690" y="233.2"><tspan x="690">Categorizada por la</tspan><tspan x="690" dy="4.2">FDA como</tspan><tspan x="690" dy="4.2">categoría B</tspan></text></g>
<g id="c9n10"><rect class="b" x="670" y="251" width="40" height="26"/><text x="690" y="254.4"><tspan x="690">Junto con los</tspan><tspan x="690" dy="4.2">análisis y</tspan><tspan x="690" dy="4.2">estudios en</tspan><tspan x="690" dy="4.2">embarazo no</tspan><tspan x="690" dy="4.2">mostraron riesgo</tspan><tspan x="690" dy="4.2">significativo</tspan></text></g>
<g id="c9n11"><rect class="y" x="672" y="284" width="36" height="9"/><text class="h" x="690" y="287.3"><tspan x="690">La revisión del</tspan><tspan x="690" dy="4.2">producto</tspan></text></g>
<g id="c9n12"><rect class="b" x="667" y="300" width="46" height="18"/><text x="690" y="305.7"><tspan x="690">Se pidió a los</tspan><tspan x="690" dy="4.2">pacientes notificar</tspan><tspan x="690" dy="4.2">los efectos</tspan></text></g>
<g id="c9n13"><rect class="b" x="667" y="327" width="46" height="11"/><text x="690" y="331.3"><tspan x="690">Los reportes de</tspan><tspan x="690" dy="4.2">la categoría B</tspan></text></g>
<g id="c9n14"><rect class="b" x="667" y="347" width="46" height="13"/><text x="690" y="350.2"><tspan x="690">Revisión de la</tspan><tspan x="690" dy="4.2">publicidad y las</tspan><tspan x="690" dy="4.2">notificaciones</tspan></text></g>
<g id="c9n15"><rect class="b" x="663" y="368" width="53" height="29"/><text x="689.5" y="372.9"><tspan x="689.5">Se analizan los</tspan><tspan x="689.5" dy="4.2">reportes de reacciones</tspan><tspan x="689.5" dy="4.2">adversas recibidas</tspan><tspan x="689.5" dy="4.2">por los efectos</tspan><tspan x="689.5" dy="4.2">en pacientes y</tspan><tspan x="689.5" dy="4.2">su seguridad</tspan></text></g>
<g id="c9n16"><rect class="b" x="667" y="405" width="46" height="9"/><text x="690" y="408.3"><tspan x="690">El centro regional</tspan><tspan x="690" dy="4.2">analiza los datos</tspan></text></g>
<g id="c9n17"><rect class="b" x="667" y="421" width="46" height="14"/><text x="690" y="424.7"><tspan x="690">Se revisa la</tspan><tspan x="690" dy="4.2">reacción y la</tspan><tspan x="690" dy="4.2">gravedad del caso</tspan></text></g>
<g id="c9n18"><rect class="b" x="665" y="445" width="50" height="18"/><text x="690" y="448.6"><tspan x="690">Se evalúa la</tspan><tspan x="690" dy="4.2">relación entre el</tspan><tspan x="690" dy="4.2">fármaco y la</tspan><tspan x="690" dy="4.2">reacción</tspan></text></g>
<g id="c9n19"><rect class="b" x="667" y="473" width="46" height="14"/><text x="690" y="476.7"><tspan x="690">Un estudio de</tspan><tspan x="690" dy="4.2">casos de 2 a 3</tspan><tspan x="690" dy="4.2">años</tspan></text></g>
<g id="c9n20"><rect class="b" x="667" y="497" width="46" height="15"/><text x="690" y="501.2"><tspan x="690">Resultados de un</tspan><tspan x="690" dy="4.2">estudio de 2 a 5</tspan><tspan x="690" dy="4.2">años de seguimiento</tspan></text></g>
<g id="c9n21"><rect class="b" x="667" y="519" width="46" height="17"/><text x="690" y="522.1"><tspan x="690">El 40% de los</tspan><tspan x="690" dy="4.2">reportes fueron de</tspan><tspan x="690" dy="4.2">reacciones leves y</tspan><tspan x="690" dy="4.2">esperadas</tspan></text></g>
<g id="c9n22"><rect class="b" x="667" y="542" width="46" height="17"/><text x="690" y="545.1"><tspan x="690">Los casos graves</tspan><tspan x="690" dy="4.2">fueron poco</tspan><tspan x="690" dy="4.2">frecuentes en el</tspan><tspan x="690" dy="4.2">estudio</tspan></text></g>
<g id="bA"><rect class="b" x="654" y="569" width="44" height="17"/><text x="676" y="572.1"><tspan x="676">Los resultados</tspan><tspan x="676" dy="4.2">sugieren que el</tspan><tspan x="676" dy="4.2">riesgo es bajo en</tspan><tspan x="676" dy="4.2">este fármaco</tspan></text></g>
<g id="bB"><rect class="b" x="714" y="567" width="44" height="21"/><text x="736" y="570"><tspan x="736">Es necesario</tspan><tspan x="736" dy="4.2">continuar con el</tspan><tspan x="736" dy="4.2">seguimiento de la</tspan><tspan x="736" dy="4.2">seguridad del</tspan><tspan x="736" dy="4.2">medicamento</tspan></text></g>
</svg>
